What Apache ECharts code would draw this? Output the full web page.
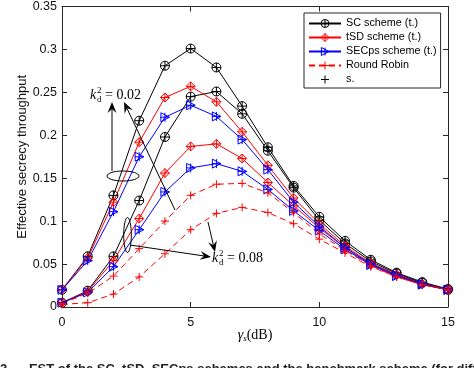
<!DOCTYPE html>
<html>
<head>
<meta charset="utf-8">
<script src="https://cdn.jsdelivr.net/npm/echarts@6/dist/echarts.min.js"></script>
<style>
html,body{margin:0;padding:0;background:#fff;}
#c{width:474px;height:368px;}
</style>
</head>
<body>
<div id="c"></div>
<script>
// ---- data ----
const gammaS = [0,1,2,3,4,5,6,7,8,9,10,11,12,13,14,15];
const xTicks = [0,5,10,15];
const yTicks = [0,0.05,0.1,0.15,0.2,0.25,0.3,0.35];

const scK002    = [0.020,0.059,0.130,0.217,0.281,0.301,0.279,0.234,0.186,0.141,0.105,0.077,0.055,0.040,0.029,0.021];
const scK008    = [0.005,0.019,0.059,0.124,0.198,0.245,0.251,0.225,0.182,0.139,0.101,0.074,0.053,0.039,0.028,0.020];
const tsdK002   = [0.020,0.057,0.122,0.192,0.244,0.257,0.239,0.204,0.165,0.127,0.097,0.071,0.051,0.038,0.027,0.020];
const tsdK008   = [0.005,0.018,0.054,0.103,0.156,0.187,0.190,0.173,0.145,0.118,0.092,0.069,0.050,0.037,0.027,0.020];
const secpsK002 = [0.020,0.054,0.111,0.175,0.221,0.235,0.222,0.195,0.160,0.122,0.094,0.069,0.050,0.037,0.027,0.020];
const secpsK008 = [0.005,0.017,0.047,0.090,0.134,0.162,0.167,0.158,0.137,0.112,0.089,0.067,0.049,0.036,0.026,0.020];
const rrK002    = [0.004,0.016,0.036,0.068,0.100,0.130,0.143,0.144,0.133,0.110,0.085,0.066,0.048,0.035,0.026,0.020];
const rrK008    = [0.003,0.005,0.015,0.035,0.062,0.090,0.109,0.116,0.110,0.097,0.079,0.063,0.047,0.035,0.026,0.020];

const legendNames = ['SC scheme (t.)','tSD scheme (t.)','SECps scheme (t.)','Round Robin','s.'];
const annot002 = '0.02';
const annot008 = '0.08';
const xName = '(dB)';
const yName = 'Effective secrecy throughput';
const caption = '2.     EST of the SC, tSD, SECps schemes and the benchmark scheme (for different';

// ---- symbols ----
const SYM_CIRCLE = 'path://M0,-10A10,10,0,1,1,0,10A10,10,0,1,1,0,-10ZM0,-10L0,10M-10,0L10,0';
const SYM_DIAMOND = 'path://M0,-10L10,0L0,10L-10,0ZM0,-10L0,10M-10,0L10,0';
const SYM_TRI = 'path://M-9,-10L10,0L-9,10ZM0,-10L0,10M-10,0L10,0';
const SYM_PLUS = 'path://M0,-10L0,10M-10,0L10,0';

const chart = echarts.init(document.getElementById('c'), null, {renderer:'canvas'});
const toData = arr => gammaS.map((x,i)=>[x, arr[i]]);

function mk(name, arr, color, symbol, size, dashed){
  return {
    name: name, type:'line', data: toData(arr),
    symbol: symbol, symbolSize: size, symbolKeepAspect: true,
    lineStyle: {color: color, width: 1, type: dashed ? [6,4] : 'solid'},
    itemStyle: {color: 'rgba(0,0,0,0)', borderColor: color, borderWidth: 1},
    emphasis: {disabled: true}, animation: false, z: 3
  };
}

const series = [
  mk(legendNames[0], scK002, '#000', SYM_CIRCLE, 9, false),
  mk(legendNames[0], scK008, '#000', SYM_CIRCLE, 9, false),
  mk(legendNames[1], tsdK002, '#ff0000', SYM_DIAMOND, 9, false),
  mk(legendNames[1], tsdK008, '#ff0000', SYM_DIAMOND, 9, false),
  mk(legendNames[2], secpsK002, '#0000ff', SYM_TRI, 9, false),
  mk(legendNames[2], secpsK008, '#0000ff', SYM_TRI, 9, false),
  mk(legendNames[3], rrK002, '#ff0000', SYM_PLUS, 8, true),
  mk(legendNames[3], rrK008, '#ff0000', SYM_PLUS, 8, true),
  {
    name: legendNames[4], type:'line', data: [],
    symbol: SYM_PLUS, symbolSize: 8,
    lineStyle:{width:0, color:'#000', opacity:0},
    itemStyle:{color:'rgba(0,0,0,0)', borderColor:'#000', borderWidth:1}
  }
];

const axisCol = '#262626';
const fontSans = '"Liberation Sans", Arial, sans-serif';
const fontSerif = '"Liberation Serif", "DejaVu Serif", serif';

function arrow(x1,y1,x2,y2){
  const dx=x2-x1, dy=y2-y1, L=Math.sqrt(dx*dx+dy*dy);
  const ux=dx/L, uy=dy/L, px=-uy, py=ux;
  const hl=11, hw=4.5, notch=7;
  const bx=x2-ux*hl, by=y2-uy*hl;
  const nx=x2-ux*notch, ny=y2-uy*notch;
  return [
    {type:'line', shape:{x1:x1,y1:y1,x2:nx,y2:ny}, style:{stroke:'#000', lineWidth:1}, z:10},
    {type:'polygon', shape:{points:[[x2,y2],[bx+px*hw,by+py*hw],[nx,ny],[bx-px*hw,by-py*hw]]}, style:{fill:'#000'}, z:10}
  ];
}
function kLabel(x,y,val){
  return [
    {type:'text', left:x, top:y-8, style:{text:'k', font:'italic 14px '+fontSerif, fill:'#000'}, z:10},
    {type:'text', left:x+7, top:y-10, style:{text:'2', font:'9px '+fontSerif, fill:'#000'}, z:10},
    {type:'text', left:x+7, top:y-1, style:{text:'d', font:'9px '+fontSerif, fill:'#000'}, z:10},
    {type:'text', left:x+15, top:y-8, style:{text:'= '+val, font:'14px '+fontSerif, fill:'#000'}, z:10}
  ];
}

const graphics = [].concat(
  [{type:'ellipse', shape:{cx:123, cy:176, rx:16, ry:5}, style:{stroke:'#000', fill:'none', lineWidth:1}, z:10},
   {type:'ellipse', shape:{cx:127.5, cy:235, rx:3.8, ry:17.5}, style:{stroke:'#000', fill:'none', lineWidth:1}, z:10}],
  arrow(112,171,112,102),
  arrow(175,210,124,102),
  arrow(208,222,215,252),
  arrow(130,245,211,257),
  kLabel(90,96,annot002),
  kLabel(212,259,annot008),
  [{type:'text', left:0, top:363, style:{text:caption, font:'bold 13px '+fontSans, fill:'#222'}, z:10}]
);

const legendColors = {};
legendColors[legendNames[0]] = '#000';
legendColors[legendNames[1]] = '#ff0000';
legendColors[legendNames[2]] = '#0000ff';
legendColors[legendNames[3]] = '#ff0000';
legendColors[legendNames[4]] = '#000';

chart.setOption({
  animation: false,
  backgroundColor: '#fff',
  grid: {left:62, right:26, top:4, bottom:61, show:false},
  legend: {
    data: legendNames.map(n => ({name:n, itemStyle:{color:'rgba(0,0,0,0)', borderColor:legendColors[n], borderWidth:1}})),
    left: 304, top: 13, orient:'vertical',
    backgroundColor:'#fff', borderColor:'#262626', borderWidth:1, borderRadius:0,
    padding:[5,4,3,4], itemWidth:32, itemHeight:10, itemGap:3,
    selectedMode:false,
    textStyle:{fontFamily:fontSans, fontSize:10.8, color:'#000'}
  },
  xAxis: [{
    type:'value', min:0, max:15, interval:5,
    name: '{g|γ}{s|s}{d|' + xName + '}', nameLocation:'middle', nameGap:20, nameMoveOverlap:false,
    nameTextStyle:{
      fontFamily:fontSerif, fontSize:13, color:'#000',
      rich:{g:{fontFamily:fontSerif, fontStyle:'italic', fontSize:14, color:'#000', lineHeight:16, verticalAlign:'middle'},
            s:{fontFamily:fontSerif, fontStyle:'italic', fontSize:9, color:'#000', lineHeight:16, verticalAlign:'bottom'},
            d:{fontFamily:fontSerif, fontSize:14, color:'#000', lineHeight:16, verticalAlign:'middle'}}
    },
    axisLine:{show:true, onZero:false, lineStyle:{color:axisCol, width:1}},
    axisTick:{show:true, inside:true, length:5, lineStyle:{color:axisCol}},
    axisLabel:{fontFamily:fontSans, fontSize:12.5, color:'#111', margin:9,
      formatter: v => xTicks.includes(v) ? String(v) : ''},
    splitLine:{show:false}
  },{
    type:'value', min:0, max:15, interval:5, position:'top',
    axisLine:{show:true, onZero:false, lineStyle:{color:axisCol, width:1}},
    axisTick:{show:true, inside:true, length:5, lineStyle:{color:axisCol}},
    axisLabel:{show:false}, splitLine:{show:false}
  }],
  yAxis: [{
    type:'value', min:0, max:0.35, interval:0.05,
    name: yName, nameLocation:'middle', nameGap:33, nameMoveOverlap:false,
    nameTextStyle:{fontFamily:fontSans, fontSize:13, color:'#111'},
    axisLine:{show:true, onZero:false, lineStyle:{color:axisCol, width:1}},
    axisTick:{show:true, inside:true, length:5, lineStyle:{color:axisCol}},
    axisLabel:{fontFamily:fontSans, fontSize:12.5, color:'#111', margin:5,
      formatter: v => { const t = yTicks.find(k=>Math.abs(k-v)<1e-9); return t===undefined ? '' : String(+t.toFixed(2)); }},
    splitLine:{show:false}
  },{
    type:'value', min:0, max:0.35, interval:0.05, position:'right',
    axisLine:{show:true, onZero:false, lineStyle:{color:axisCol, width:1}},
    axisTick:{show:true, inside:true, length:5, lineStyle:{color:axisCol}},
    axisLabel:{show:false}, splitLine:{show:false}
  }],
  series: series,
  graphic: graphics
});
</script>
</body>
</html>
